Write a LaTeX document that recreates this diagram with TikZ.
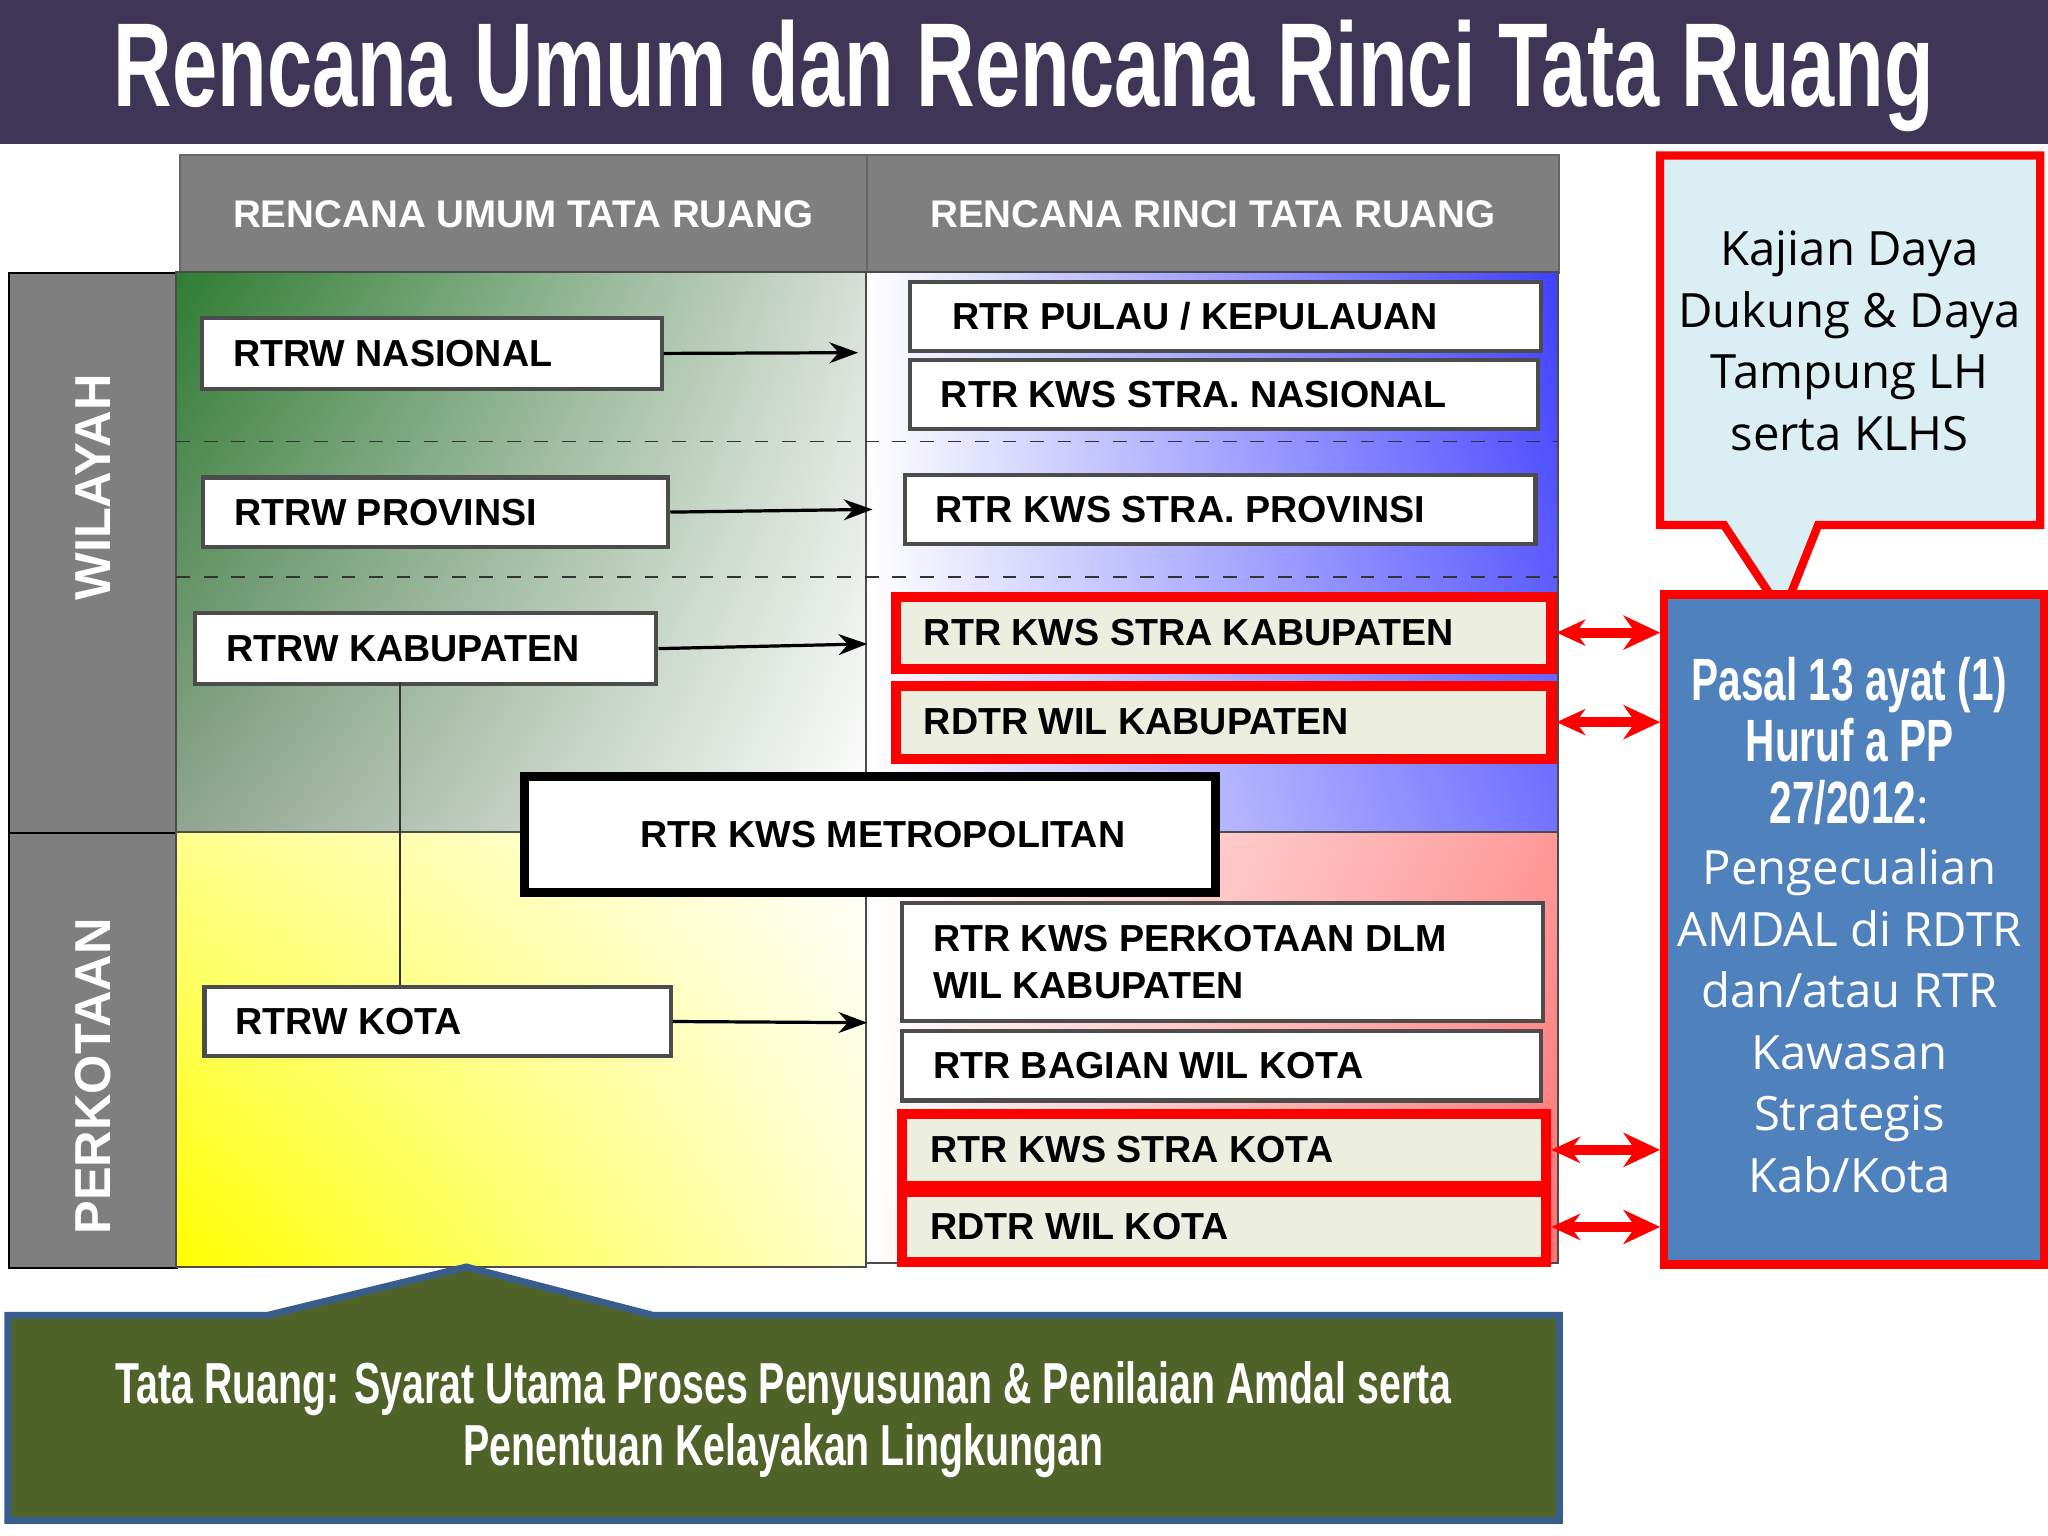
\documentclass[tikz,border=0pt]{standalone}
\usepackage{fontspec}
\setmainfont{Liberation Sans}
\newfontfamily\cond[FakeStretch=0.68]{Liberation Sans}
\newfontfamily\opens{Open Sans}
\usetikzlibrary{arrows.meta,shadings}
\definecolor{titlebg}{HTML}{3F3557}
\definecolor{hdr}{HTML}{7F7F7F}
\definecolor{pale}{HTML}{ECEEDF}
\definecolor{callb}{HTML}{DBEEF4}
\definecolor{blueb}{HTML}{4F81BD}
\definecolor{greenb}{HTML}{4F6228}
\definecolor{greenbd}{HTML}{385D8A}
\definecolor{gdark}{HTML}{2E7D32}
\definecolor{gmid}{HTML}{8FA58F}
\definecolor{gpale}{HTML}{D8DED8}
\tikzset{
 wbox/.style={draw=black!70,fill=white,line width=0.9pt,inner sep=0pt},
 rbox/.style={draw=red,fill=pale,line width=2.2pt,inner sep=0pt},
 btxt/.style={font=\bfseries\fontsize{8.2}{10}\selectfont,anchor=west},
 harr/.style={-{Stealth[length=2.2mm,width=1.6mm]},line width=0.7pt},
 rarr/.style={{Stealth[length=2.2mm,width=2mm]}-{Stealth[length=2.8mm,width=2.6mm]},red,line width=2.2pt},
}
\begin{document}
\begin{tikzpicture}[x=0.1mm,y=-0.1mm]
\useasboundingbox (0,0) rectangle (1568,1176);
\fill[white] (0,0) rectangle (1568,1176);
% title
\fill[titlebg] (0,0) rectangle (1568,110);
\node (title) [white,font=\cond\bfseries\fontsize{26}{30}\selectfont] at (784,58) {Rencana Umum dan Rencana Rinci Tata Ruang};
% headers
\node (h1) [fill=hdr,draw=black!60,minimum width=52.6mm,minimum height=9mm,anchor=north west,inner sep=0pt,text=white,font=\bfseries\fontsize{8.4}{10}\selectfont] at (137,118) {RENCANA UMUM TATA RUANG};
\node (h2) [fill=hdr,draw=black!60,minimum width=53mm,minimum height=9mm,anchor=north west,inner sep=0pt,text=white,font=\bfseries\fontsize{8.4}{10}\selectfont] at (663,118) {RENCANA RINCI TATA RUANG};
% side
\node (wil) [fill=hdr,draw=black,minimum width=12.9mm,minimum height=42.9mm,anchor=north west,inner sep=0pt] at (6,208) {};
\node [rotate=90,text=white,font=\bfseries\fontsize{11}{12}\selectfont] at ([yshift=5mm]wil.center) {WILAYAH};
\node (kot) [fill=hdr,draw=black,minimum width=12.9mm,minimum height=33.3mm,anchor=north west,inner sep=0pt] at (6,637) {};
\node [rotate=90,text=white,font=\bfseries\fontsize{11}{12}\selectfont] at ([yshift=-2mm]kot.center) {PERKOTAAN};
% shaded regions
\shade[upper left=gdark,upper right=gpale,lower left=gmid,lower right=white] (135,208) rectangle (663,637);
\shade[upper left=white,lower left=white,upper right=blue!75,lower right=blue!55] (663,208) rectangle (1193,637);
\shade[upper left=yellow!45,upper right=white,lower left=yellow,lower right=yellow!20] (135,637) rectangle (663,970);
\shade[upper left=white,lower left=white,upper right=red!40,lower right=red!55] (663,637) rectangle (1193,967);
\draw[black!70] (135,208) rectangle (663,970);
\draw[black!70] (663,208) rectangle (1193,967);
\draw[black!70] (135,637) -- (398,637) (927,637) -- (1193,637);
\draw[dashed,black!80] (135,338) -- (1193,338) (135,442) -- (1193,442);
% left boxes
\node (nas) [wbox,minimum width=35.2mm,minimum height=5.4mm,anchor=north west] at (153,242) {};
\node [btxt] at ([xshift=1.3mm]nas.west) {RTRW NASIONAL};
\node (prov) [wbox,minimum width=35.6mm,minimum height=5.3mm,anchor=north west] at (154,364) {};
\node [btxt] at ([xshift=1.3mm]prov.west) {RTRW PROVINSI};
\node (kab) [wbox,minimum width=35.3mm,minimum height=5.4mm,anchor=north west] at (148,468) {};
\node [btxt] at ([xshift=1.3mm]kab.west) {RTRW KABUPATEN};
\node (kota) [wbox,minimum width=35.7mm,minimum height=5.3mm,anchor=north west] at (155,754) {};
\node [btxt] at ([xshift=1.3mm]kota.west) {RTRW KOTA};
\draw[black!80] (306,522) -- (306,754);
% right boxes
\node (pul) [wbox,minimum width=48.3mm,minimum height=5.3mm,anchor=north west] at (695,214) {};
\node [btxt] at ([xshift=2.2mm]pul.west) {RTR PULAU / KEPULAUAN};
\node (sn) [wbox,minimum width=48.1mm,minimum height=5.3mm,anchor=north west] at (695,274) {};
\node [btxt] at ([xshift=1.3mm]sn.west) {RTR KWS STRA. NASIONAL};
\node (sp) [wbox,minimum width=48.3mm,minimum height=5.3mm,anchor=north west] at (691,362) {};
\node [btxt] at ([xshift=1.3mm]sp.west) {RTR KWS STRA. PROVINSI};
\node (sk) [rbox,minimum width=50.2mm,minimum height=5.5mm,anchor=north west] at (682,453) {};
\node [btxt] at ([xshift=1.3mm]sk.west) {RTR KWS STRA KABUPATEN};
\node (rk) [rbox,minimum width=50.2mm,minimum height=5.6mm,anchor=north west] at (682,521) {};
\node [btxt] at ([xshift=1.3mm]rk.west) {RDTR WIL KABUPATEN};
\node (met) [draw=black,fill=white,line width=2pt,minimum width=52.9mm,minimum height=8.9mm,anchor=north west,inner sep=0pt] at (398,591) {};
\node [font=\bfseries\fontsize{8.2}{10}\selectfont] at ([xshift=1mm]met.center) {RTR KWS METROPOLITAN};
\node (pk) [wbox,minimum width=49.1mm,minimum height=9mm,anchor=north west] at (689,690) {};
\node [btxt,align=left,font=\bfseries\fontsize{8.2}{10.4}\selectfont] at ([xshift=1.3mm]pk.west) {RTR KWS PERKOTAAN DLM\\WIL KABUPATEN};
\node (bg) [wbox,minimum width=48.9mm,minimum height=5.3mm,anchor=north west] at (689,788) {};
\node [btxt] at ([xshift=1.3mm]bg.west) {RTR BAGIAN WIL KOTA};
\node (skt) [rbox,minimum width=49.3mm,minimum height=5.5mm,anchor=north west] at (687,849) {};
\node [btxt] at ([xshift=1.3mm]skt.west) {RTR KWS STRA KOTA};
\node (rkt) [rbox,minimum width=49.3mm,minimum height=5.3mm,anchor=north west] at (687,909) {};
\node [btxt] at ([xshift=1.3mm]rkt.west) {RDTR WIL KOTA};
% black arrows
\coordinate (a1) at (657,270); \coordinate (a2) at (668,390);
\coordinate (a3) at (664,493); \coordinate (a4) at (664,783);
\draw[harr] (nas.east) -- (a1);
\draw[harr] (prov.east) -- (a2);
\draw[harr] (kab.east) -- (a3);
\draw[harr] (kota.east) -- (a4);
% callout
\draw[red,fill=callb,line width=1.8pt] (1271,119) -- (1562,119) -- (1562,402) -- (1392,402) -- (1365,470) -- (1320,402) -- (1271,402) -- cycle;
\node (kaj) [align=center,font=\opens\fontsize{10.3}{13.4}\selectfont] at (1416,261) {Kajian Daya\\Dukung \& Daya\\Tampung LH\\serta KLHS};
% blue box
\node (pas) [draw=red,fill=blueb,line width=1.8pt,minimum width=29.1mm,minimum height=51.3mm,anchor=north west,inner sep=0pt] at (1271,452) {};
\node [white,align=center,font=\opens\fontsize{10.3}{13.4}\selectfont] at (1416,708) {{\cond\bfseries\fontsize{13}{13.4}\selectfont Pasal 13 ayat (1)}\\{\cond\bfseries\fontsize{13}{13.4}\selectfont Huruf a PP}\\{\cond\bfseries\fontsize{13}{13.4}\selectfont 27/2012}:\\Pengecualian\\AMDAL di RDTR\\dan/atau RTR\\Kawasan\\Strategis\\Kab/Kota};
\draw[rarr] (sk.east) -- (sk.east -| pas.west);
\draw[rarr] (rk.east) -- (rk.east -| pas.west);
\draw[rarr] (skt.east) -- (skt.east -| pas.west);
\draw[rarr] (rkt.east) -- (rkt.east -| pas.west);
% bottom
\draw[greenbd,fill=greenb,line width=1.5pt] (6,1007) -- (205,1007) -- (357,970) -- (500,1007) -- (1194,1007) -- (1194,1164) -- (6,1164) -- cycle;
\node (bot) [white,align=center,font=\cond\bfseries\fontsize{12.6}{13.6}\selectfont] at (600,1087) {Tata Ruang: Syarat Utama Proses Penyusunan \& Penilaian Amdal serta\\Penentuan Kelayakan Lingkungan};
\end{tikzpicture}
\end{document}
